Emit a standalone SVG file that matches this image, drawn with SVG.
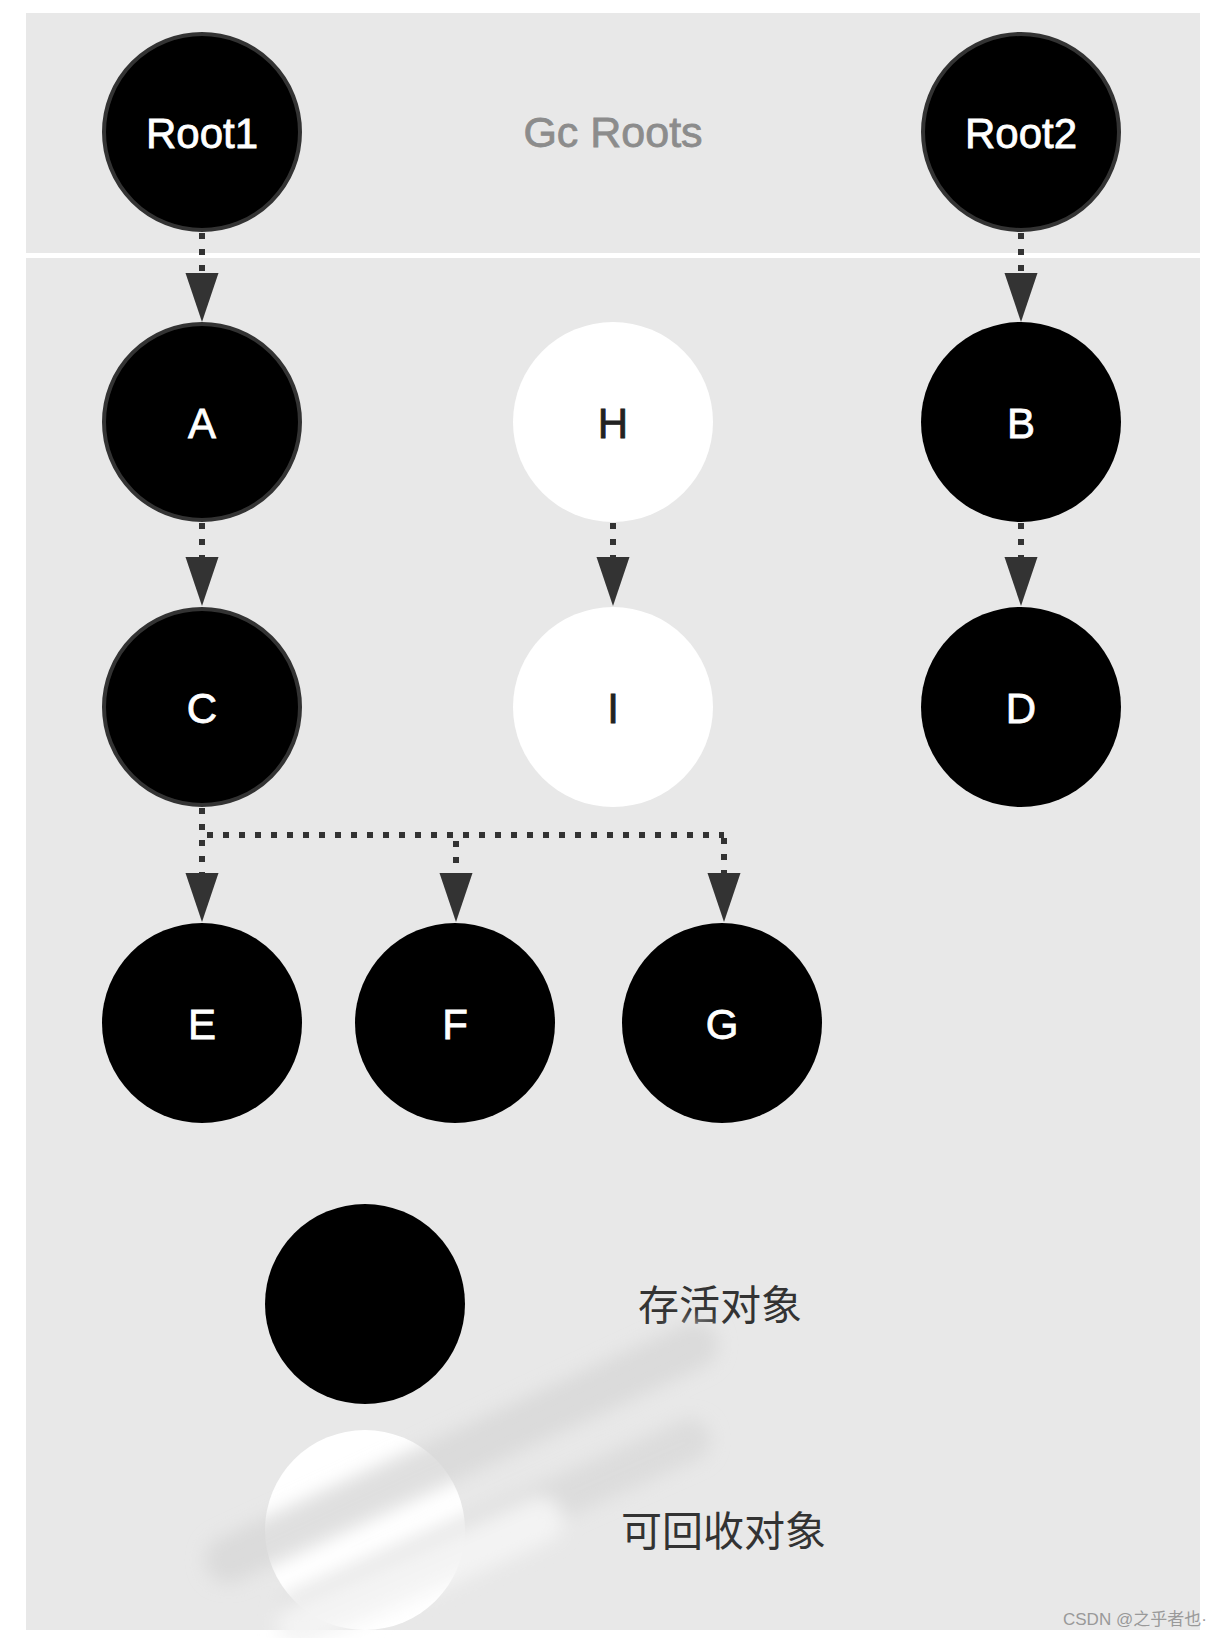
<svg xmlns="http://www.w3.org/2000/svg" width="1228" height="1638" viewBox="0 0 1228 1638">
  <defs>
    <style>
      .panel { fill: #e8e8e8; }
      .live { fill: #000000; }
      .live-s { fill: #000000; stroke: #333333; stroke-width: 4; }
      .dead { fill: #ffffff; }
      .lbl { font-family: "Liberation Sans", Arial, sans-serif; font-size: 42px; text-anchor: middle; stroke-width: 0.8px; }
      .w { fill: #ffffff; stroke: #ffffff; }
      .k { fill: #222222; stroke: #222222; }
      .edge { fill: none; stroke: #333333; stroke-width: 6; stroke-dasharray: 6 10; }
      .head { fill: #333333; }
      .cjk { font-family: "Noto Sans CJK SC", "Noto Sans", sans-serif; font-size: 41px; fill: #333333; }
    </style>
    <filter id="blur" x="-30%" y="-30%" width="160%" height="160%">
      <feGaussianBlur stdDeviation="9"/>
    </filter>
  </defs>

  <rect width="1228" height="1638" fill="#ffffff"/>
  <rect class="panel" x="26" y="13" width="1174" height="240"/>
  <rect class="panel" x="26" y="258" width="1174" height="1372"/>

  <text x="613" y="147" font-family="Liberation Sans, Arial, sans-serif" font-size="43" fill="#8c8c8c" stroke="#8c8c8c" stroke-width="0.8" text-anchor="middle">Gc Roots</text>

  <g id="connectors">
    <line class="edge" x1="202" y1="233" x2="202" y2="274"/>
    <polygon class="head" points="185.5,273 218.5,273 202,322"/>
    <line class="edge" x1="1021" y1="233" x2="1021" y2="274"/>
    <polygon class="head" points="1004.5,273 1037.5,273 1021,322"/>
    <line class="edge" x1="202" y1="523" x2="202" y2="558"/>
    <polygon class="head" points="185.5,557 218.5,557 202,606"/>
    <line class="edge" x1="613" y1="523" x2="613" y2="558"/>
    <polygon class="head" points="596.5,557 629.5,557 613,606"/>
    <line class="edge" x1="1021" y1="523" x2="1021" y2="558"/>
    <polygon class="head" points="1004.5,557 1037.5,557 1021,606"/>
    <line class="edge" x1="202" y1="808" x2="202" y2="874"/>
    <line class="edge" x1="207" y1="835" x2="724" y2="835"/>
    <line class="edge" x1="456" y1="841" x2="456" y2="874"/>
    <line class="edge" x1="724" y1="838" x2="724" y2="874"/>
    <polygon class="head" points="185.5,873 218.5,873 202,922"/>
    <polygon class="head" points="439.5,873 472.5,873 456,922"/>
    <polygon class="head" points="707.5,873 740.5,873 724,922"/>
  </g>

  <g id="Root1"><circle class="live-s" cx="202" cy="132" r="98"/><text class="lbl w" x="202" y="148">Root1</text></g>
  <g id="Root2"><circle class="live-s" cx="1021" cy="132" r="98"/><text class="lbl w" x="1021" y="148">Root2</text></g>
  <g id="A"><circle class="live-s" cx="202" cy="422" r="98"/><text class="lbl w" x="202" y="438">A</text></g>
  <g id="H"><circle class="dead" cx="613" cy="422" r="100"/><text class="lbl k" x="613" y="438">H</text></g>
  <g id="B"><circle class="live" cx="1021" cy="422" r="100"/><text class="lbl w" x="1021" y="438">B</text></g>
  <g id="C"><circle class="live-s" cx="202" cy="707" r="98"/><text class="lbl w" x="202" y="723">C</text></g>
  <g id="I"><circle class="dead" cx="613" cy="707" r="100"/><text class="lbl k" x="613" y="723">I</text></g>
  <g id="D"><circle class="live" cx="1021" cy="707" r="100"/><text class="lbl w" x="1021" y="723">D</text></g>
  <g id="E"><circle class="live" cx="202" cy="1023" r="100"/><text class="lbl w" x="202" y="1039">E</text></g>
  <g id="F"><circle class="live" cx="455" cy="1023" r="100"/><text class="lbl w" x="455" y="1039">F</text></g>
  <g id="G"><circle class="live" cx="722" cy="1023" r="100"/><text class="lbl w" x="722" y="1039">G</text></g>

  <g id="legend-live">
    <circle class="live" cx="365" cy="1304" r="100"/>
    <text class="cjk" x="638" y="1320">存活对象</text>
  </g>
  <g id="legend-dead">
    <circle class="dead" cx="365" cy="1530" r="100"/>
    <text class="cjk" x="621" y="1546">可回收对象</text>
  </g>

  <g id="smudge" filter="url(#blur)" stroke-linecap="round">
    <line x1="228" y1="1560" x2="695" y2="1345" stroke="#d8d8d8" stroke-width="46" opacity="0.8"/>
    <line x1="300" y1="1612" x2="690" y2="1440" stroke="#dadada" stroke-width="42" opacity="0.8"/>
    <line x1="300" y1="1625" x2="540" y2="1520" stroke="#f6f6f6" stroke-width="46" opacity="0.9"/>
  </g>

  <text x="1063" y="1625" font-family="Liberation Sans, Noto Sans CJK SC, sans-serif" font-size="17" fill="#999999">CSDN @之乎者也·</text>
</svg>
